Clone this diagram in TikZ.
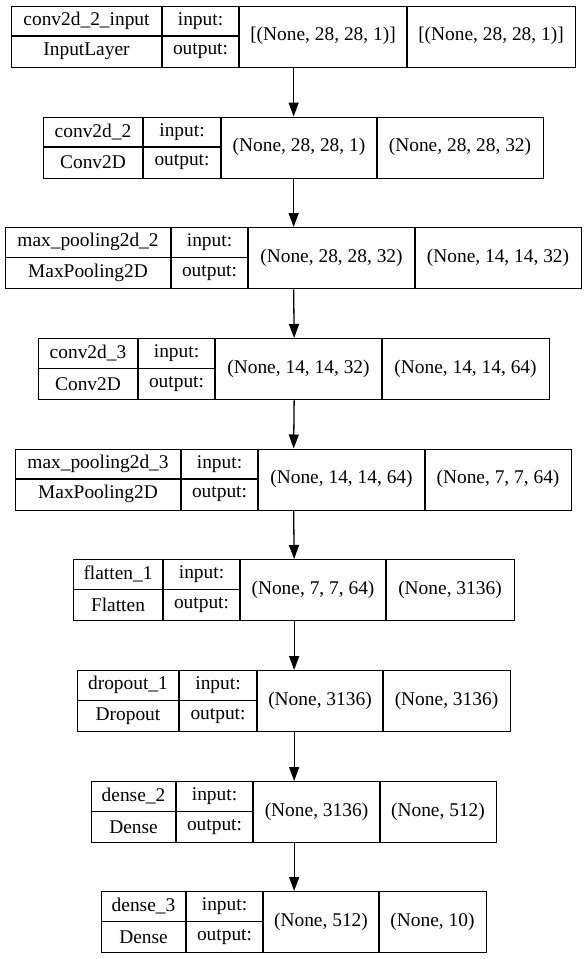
\documentclass[tikz,border=0pt]{standalone}
\usepackage{fontspec}
\setmainfont{Liberation Serif}
\usetikzlibrary{arrows.meta}
\begin{document}
\begin{tikzpicture}[x=1pt,y=-1pt,>={Triangle[length=14pt,width=10pt]},
        box/.style={draw,line width=1.3pt,inner sep=0pt,anchor=north west,minimum height=61pt},
        lbl/.style={inner sep=0pt,font=\fontsize{19.4}{22}\selectfont}]
    \useasboundingbox (0,0) rectangle (587,959);
    \foreach \id/\y/\xa/\xb/\xc/\xd/\xe/\nm/\ty/\ishape/\oshape in {
        l1/5.5/11/162/239/407/575/{conv2d\_2\_input}/InputLayer/{[(None, 28, 28, 1)]}/{[(None, 28, 28, 1)]},
        l2/116.5/43/143/221/377/543/{conv2d\_2}/Conv2D/{(None, 28, 28, 1)}/{(None, 28, 28, 32)},
        l3/227/5/171/248/415/581/{max\_pooling2d\_2}/MaxPooling2D/{(None, 28, 28, 32)}/{(None, 14, 14, 32)},
        l4/338/38/138/215/382/549/{conv2d\_3}/Conv2D/{(None, 14, 14, 32)}/{(None, 14, 14, 64)},
        l5/448.5/15/181/258/425/571/{max\_pooling2d\_3}/MaxPooling2D/{(None, 14, 14, 64)}/{(None, 7, 7, 64)},
        l6/559/73/163/240/386/514/{flatten\_1}/Flatten/{(None, 7, 7, 64)}/{(None, 3136)},
        l7/670/77/179/257/383/510/{dropout\_1}/Dropout/{(None, 3136)}/{(None, 3136)},
        l8/781/91/176/253/380/496/{dense\_2}/Dense/{(None, 3136)}/{(None, 512)},
        l9/891/101/186/263/379/486/{dense\_3}/Dense/{(None, 512)}/{(None, 10)}}{
        \node[box,minimum width={\xe-\xa}] (\id) at (\xa,\y) {};
        \draw[line width=1.3pt] (\xb,\y)--(\xb,\y+61) (\xc,\y)--(\xc,\y+61) (\xd,\y)--(\xd,\y+61)
            (\xa,\y+30.5)--(\xc,\y+30.5);
        \node[lbl] (\id-nm) at ({(\xa+\xb)/2},\y+15.25) {\nm};
        \node[lbl] (\id-ty) at ({(\xa+\xb)/2},\y+45.75) {\ty};
        \node[lbl] (\id-i) at ({(\xb+\xc)/2},\y+15.25) {input:};
        \node[lbl] (\id-o) at ({(\xb+\xc)/2},\y+45.75) {output:};
        \node[lbl] (\id-is) at ({(\xc+\xd)/2},\y+30.5) {\ishape};
        \node[lbl] (\id-os) at ({(\xd+\xe)/2},\y+30.5) {\oshape};
    }
    \foreach \a/\b in {l1/l2,l2/l3,l3/l4,l4/l5,l5/l6,l6/l7,l7/l8,l8/l9}
        \draw[->,line width=1.3pt] (\a.south)--(\b.north);
\end{tikzpicture}
\end{document}
